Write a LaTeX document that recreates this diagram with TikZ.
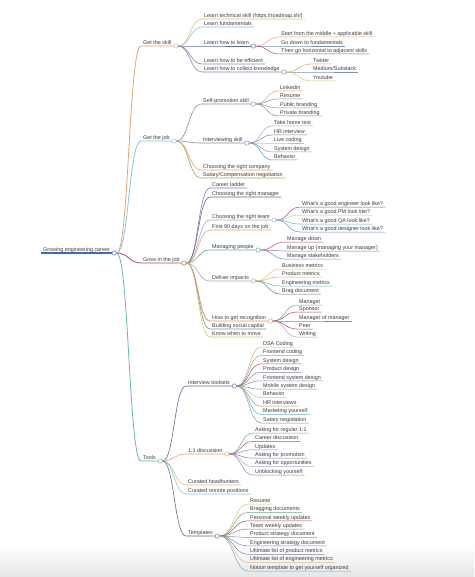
\documentclass[tikz,border=0pt]{standalone}
\usepackage{fontspec}
\setmainfont{Liberation Sans}
\usetikzlibrary{calc}
\definecolor{txt}{HTML}{3A3A3A}
\definecolor{rootc}{HTML}{3A6DB5}
\definecolor{orange}{HTML}{E5A46C}
\definecolor{khaki}{HTML}{D6C878}
\definecolor{lblue}{HTML}{8EC4E0}
\definecolor{slate}{HTML}{5E7090}
\definecolor{bgray}{HTML}{7E90B2}
\definecolor{pgray}{HTML}{8C88A6}
\definecolor{maroon}{HTML}{A4546A}
\definecolor{teal}{HTML}{66B4B8}
\definecolor{mblue}{HTML}{6890C2}
\definecolor{purple}{HTML}{8C78AC}
\definecolor{lav}{HTML}{B6A2D2}
\definecolor{green}{HTML}{70AC80}
\definecolor{gold}{HTML}{D8A262}
\definecolor{olive}{HTML}{A4A468}
\definecolor{dteal}{HTML}{5C8484}
\definecolor{redc}{HTML}{C04656}
\tikzset{
  mn/.style={anchor=south west, inner xsep=2pt, inner ysep=0.5pt,
    text height=3.9pt, text depth=1.1pt,
    font=\fontsize{5.4}{6}\selectfont, text=txt},
  knob/.style={circle, fill=white, line width=0.45pt, inner sep=0pt, minimum size=4.4pt},
}
% \mmn[line width]{name}{parent knob}{colour}{x}{y}{text}
\newcommand\mmn[7][0.5pt]{%
  \node[mn] (#2) at (#5,#6) {#7};
  \draw[draw=#4, line width=#1] let \p1=(#3.east), \p2=(#2.south west),
    \n1={(\x2-\x1)*0.5} in (\p1) .. controls +(\n1,0) and +(-\n1,0) .. (\p2)
    -- (#2.south east);
}
\newcommand\knob[2]{\node[knob, draw=#2] (#1K) at ([xshift=2.2pt]#1.south east) {};}
\begin{document}
\begin{tikzpicture}[x=1pt,y=-1pt]
\useasboundingbox (0,0) rectangle (474,577);
\fill[white] (0,0) rectangle (474,577);
\shade[top color=white, bottom color=black!10] (0,545) rectangle (474,577);

% root
\node[mn] (root) at (41,253) {Growing engineering career};
\draw[rootc, line width=1.2pt] (root.south west) -- (root.south east);
\knob{root}{rootc}

% level 1
\mmn[0.8pt]{skill}{rootK}{orange}{141}{46}{Get the skill}\knob{skill}{orange}
\mmn[0.8pt]{job}{rootK}{lblue}{141}{141}{Get the job}\knob{job}{lblue}
\mmn[0.8pt]{grow}{rootK}{maroon}{141}{263}{Grow in the job}\knob{grow}{maroon}
\mmn[0.8pt]{tools}{rootK}{teal}{141}{461}{Tools}\knob{tools}{teal}

% Get the skill
\mmn[0.6pt]{tech}{skillK}{khaki}{202}{19}{Learn technical skill (https://roadmap.sh/)}
\mmn[0.6pt]{fund}{skillK}{lblue}{202}{27}{Learn fundamentals}
\mmn[0.6pt]{hl}{skillK}{slate}{202}{46}{Learn how to learn}\knob{hl}{slate}
\mmn[0.6pt]{eff}{skillK}{bgray}{202}{64}{Learn how to be efficient}
\mmn[0.6pt]{col}{skillK}{pgray}{202}{72}{Learn how to collect knowledge}\knob{col}{pgray}

\mmn{hla}{hlK}{orange}{279}{37}{Start from the middle + applicable skill}
\mmn{hlb}{hlK}{bgray}{279}{46}{Go down to fundamentals}
\mmn{hlc}{hlK}{maroon}{279}{54}{Then go horizontal to adjacent skills}

\mmn{cola}{colK}{gold}{311}{64}{Twitter}
\mmn{colb}{colK}{bgray}{311}{72}{Medium/Substack}
\mmn{colc}{colK}{khaki}{311}{81}{Youtube}

% Get the job
\mmn[0.6pt]{sp}{jobK}{bgray}{201}{104}{Self-promotion skill}\knob{sp}{bgray}
\mmn[0.6pt]{iv}{jobK}{pgray}{201}{143}{Interviewing skill}\knob{iv}{pgray}
\mmn[0.6pt]{cc}{jobK}{orange}{201}{170}{Choosing the right company}
\mmn[0.6pt]{sal}{jobK}{olive}{201}{178}{Salary/Compensation negotiation}

\mmn{spa}{spK}{orange}{278}{91}{Linkedin}
\mmn{spb}{spK}{bgray}{278}{99}{Resume}
\mmn{spc}{spK}{green}{278}{108}{Public branding}
\mmn{spd}{spK}{purple}{278}{116}{Private branding}

\mmn{iva}{ivK}{lav}{272}{126}{Take home test}
\mmn{ivb}{ivK}{purple}{272}{135}{HR interview}
\mmn{ivc}{ivK}{khaki}{272}{143}{Live coding}
\mmn{ivd}{ivK}{teal}{272}{152}{System design}
\mmn{ive}{ivK}{mblue}{272}{160}{Behavior}

% Grow in the job
\mmn[0.6pt]{lad}{growK}{purple}{210}{188}{Career ladder}
\mmn[0.6pt]{mgr}{growK}{slate}{210}{197}{Choosing the right manager}
\mmn[0.6pt]{team}{growK}{lav}{210}{220}{Choosing the right team}\knob{team}{lav}
\mmn[0.6pt]{f90}{growK}{orange}{210}{230}{First 90 days on the job}
\mmn[0.6pt]{mp}{growK}{green}{210}{250}{Managing people}\knob{mp}{green}
\mmn[0.6pt]{di}{growK}{lav}{210}{281}{Deliver impacts}\knob{di}{lav}
\mmn[0.9pt]{rec}{growK}{gold}{210}{321}{How to get recognition}\knob{rec}{gold}
\mmn[0.6pt]{soc}{growK}{pgray}{210}{329}{Building social capital}
\mmn[0.6pt]{mov}{growK}{khaki}{210}{337}{Know when to move}

\mmn{ta}{teamK}{maroon}{300}{207}{What's a good engineer look like?}
\mmn{tb}{teamK}{khaki}{300}{215}{What's a good PM look like?}
\mmn{tc}{teamK}{teal}{300}{224}{What's a good QA look like?}
\mmn{td}{teamK}{mblue}{300}{232}{What's a good designer look like?}

\mmn{mpa}{mpK}{maroon}{285}{242}{Manage down}
\mmn{mpb}{mpK}{purple}{285}{251}{Manage up (managing your manager)}
\mmn{mpc}{mpK}{mblue}{285}{259}{Manage stakeholders}

\mmn{dia}{diK}{khaki}{280}{269}{Business metrics}
\mmn{dib}{diK}{orange}{280}{277}{Product metrics}
\mmn{dic}{diK}{teal}{280}{286}{Engineering metrics}
\mmn{did}{diK}{dteal}{280}{294}{Brag document}

\mmn{reca}{recK}{green}{297}{305}{Manager}
\mmn{recb}{recK}{maroon}{297}{312}{Sponsor}
\mmn{recc}{recK}{mblue}{297}{321}{Manager of manager}
\mmn{recd}{recK}{maroon}{297}{329}{Peer}
\mmn{rece}{recK}{lav}{297}{337}{Writing}

% Tools
\mmn[0.6pt]{ts}{toolsK}{slate}{186}{386}{Interview toolsets}\knob{ts}{slate}
\mmn[0.6pt]{oo}{toolsK}{orange}{186}{454}{1:1 discussion}\knob{oo}{orange}
\mmn[0.6pt]{hh}{toolsK}{khaki}{186}{485}{Curated headhunters}
\mmn[0.6pt]{rp}{toolsK}{lblue}{186}{494}{Curated remote positions}
\mmn[0.6pt]{tp}{toolsK}{slate}{186}{536}{Templates}\knob{tp}{slate}

\mmn{tsa}{tsK}{orange}{261}{347}{DSA Coding}
\mmn{tsb}{tsK}{teal}{261}{355.4}{Frontend coding}
\mmn{tsc}{tsK}{redc}{261}{363.9}{System design}
\mmn{tsd}{tsK}{purple}{261}{372.3}{Product design}
\mmn{tse}{tsK}{pgray}{261}{380.8}{Frontend system design}
\mmn{tsf}{tsK}{bgray}{261}{389.2}{Mobile system design}
\mmn{tsg}{tsK}{khaki}{261}{397.6}{Behavior}
\mmn{tsh}{tsK}{olive}{261}{406.1}{HR interviews}
\mmn{tsi}{tsK}{teal}{261}{414.5}{Marketing yourself}
\mmn{tsj}{tsK}{bgray}{261}{423}{Salary negotiation}

\mmn{ooa}{ooK}{green}{253}{433}{Asking for regular 1:1}
\mmn{oob}{ooK}{maroon}{253}{441.4}{Career discussion}
\mmn{ooc}{ooK}{bgray}{253}{449.8}{Updates}
\mmn{ood}{ooK}{purple}{253}{458.2}{Asking for promotion}
\mmn{ooe}{ooK}{lav}{253}{466.6}{Asking for opportunities}
\mmn{oof}{ooK}{pgray}{253}{475}{Unblocking yourself}

\mmn{tpa}{tpK}{khaki}{248}{504}{Resume}
\mmn{tpb}{tpK}{green}{248}{512.4}{Bragging documents}
\mmn{tpc}{tpK}{redc}{248}{520.8}{Personal weekly updates}
\mmn{tpd}{tpK}{purple}{248}{529.1}{Team weekly updates}
\mmn{tpe}{tpK}{bgray}{248}{537.5}{Product strategy document}
\mmn{tpf}{tpK}{mblue}{248}{545.9}{Engineering strategy document}
\mmn{tpg}{tpK}{purple}{248}{554.3}{Ultimate list of product metrics}
\mmn{tph}{tpK}{khaki}{248}{562.6}{Ultimate list of engineering metrics}
\mmn{tpi}{tpK}{teal}{248}{571}{Notion template to get yourself organized}
\end{tikzpicture}
\end{document}
